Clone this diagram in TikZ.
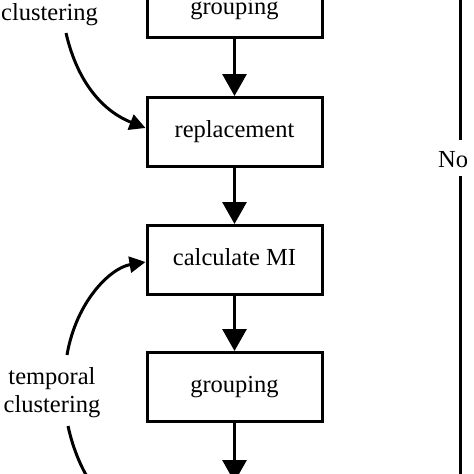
\documentclass[tikz,border=0pt]{standalone}
\usepackage{fontspec}
\setmainfont{Liberation Serif}
\usetikzlibrary{arrows.meta}
\begin{document}
\begin{tikzpicture}[x=1pt,y=-1pt,
  every node/.style={font=\fontsize{24.5}{28}\selectfont},
  box/.style={draw, line width=3pt, minimum width=175pt, minimum height=69pt, inner sep=0pt, text height=17pt, text depth=6pt},
  flow/.style={line width=3pt, -{Triangle[length=22pt,width=24pt]}},
  curv/.style={line width=3pt, -{Triangle[length=16pt,width=16pt]}},
  rule/.style={line width=3pt}]
\useasboundingbox (0,0) rectangle (474,474);
\clip (0,0) rectangle (474,474);
\fill[white] (0,0) rectangle (474,474);
% boxes
\node[box, minimum height=57pt] (g1) at (234.5,8.5) {grouping};
\node[box] (rep) at (234.5,132) {replacement};
\node[box] (mi) at (234.5,260) {calculate MI};
\node[box] (g2) at (234.5,387) {grouping};
\coordinate (end) at (234.5,482);
% flow arrows
\draw[flow] (g1.south) -- (rep.north);
\draw[flow] (rep.south) -- (mi.north);
\draw[flow] (mi.south) -- (g2.north);
\draw[flow] (g2.south) -- (end);
% clustering label and arrow
\node[anchor=base west, inner sep=0pt] (sc) at (1,20) {clustering};
\coordinate (c1s) at (66,33);
\draw[curv] (c1s) .. controls (78,85) and (105,112) .. ([yshift=4pt]rep.west);
% temporal clustering
\node[align=center, inner sep=0pt] (tc) at (52,392.5) {temporal\\clustering};
\coordinate (c2s) at (67,355);
\draw[curv] (c2s) .. controls (76,302) and (110,268) .. ([yshift=-2pt]mi.west);
\coordinate (c3s) at (68,426);
\coordinate (c3e) at (115,510);
\draw[rule] (c3s) .. controls (75,458) and (90,490) .. (c3e);
% right rule with No
\node[anchor=base west, inner sep=0pt] (no) at (438,167) {No};
\coordinate (rt) at (460,-5);
\coordinate (rt2) at (460,140);
\coordinate (rb2) at (460,176);
\coordinate (rb) at (460,480);
\draw[rule] (rt) -- (rt2);
\draw[rule] (rb2) -- (rb);
\end{tikzpicture}
\end{document}
